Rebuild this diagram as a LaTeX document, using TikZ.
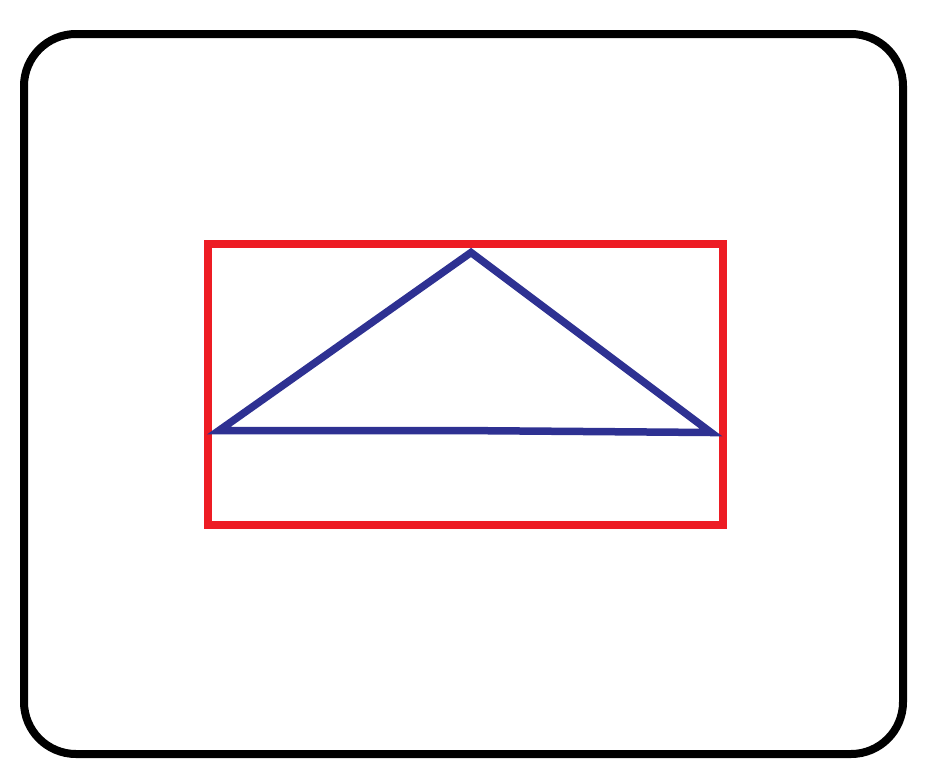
\documentclass[tikz,border=0pt]{standalone}
\definecolor{boxred}{HTML}{ED1C24}
\definecolor{triblue}{HTML}{2E3192}
\tikzset{
  frame/.style={draw=black, line width=8pt, rounded corners=52pt},
  redbox/.style={draw=boxred, line width=8pt},
  tri/.style={draw=triblue, line width=7.5pt, line join=miter}
}
\begin{document}
\begin{tikzpicture}[x=1pt,y=-1pt]
  \useasboundingbox (0,0) rectangle (925,771);
  \draw[frame] (24,34) rectangle (903,754);
  \draw[redbox] (208,244) rectangle (723,525);
  \coordinate (L) at (219,430.5);
  \coordinate (T) at (471,252.5);
  \coordinate (M) at (457,430.5);
  \coordinate (R) at (711,432.5);
  \draw[tri] (L) -- (T) -- (R) -- (M) -- cycle;
\end{tikzpicture}
\end{document}
